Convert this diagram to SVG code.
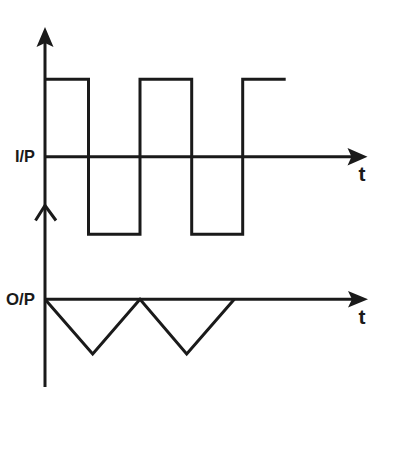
<svg xmlns="http://www.w3.org/2000/svg" width="410" height="462" viewBox="0 0 410 462">
<style>
.ln{fill:none;stroke:#1a1a1a;stroke-width:3;stroke-linejoin:miter;stroke-linecap:butt}
.ah{fill:#1a1a1a;stroke:none}
.lb{font-family:"Liberation Sans",Arial,sans-serif;font-size:16.5px;font-weight:bold;fill:#1a1a1a}
.tl{font-family:"Liberation Sans",Arial,sans-serif;font-size:20px;font-weight:bold;fill:#1a1a1a}
</style>
<rect width="410" height="462" fill="#ffffff"/>
<g id="axes">
<line class="ln" x1="45" y1="40" x2="45" y2="387"/>
<path class="ah" d="M45,27 L53.5,47 L45,43 L36.5,47 Z"/>
<line class="ln" x1="45" y1="156.7" x2="355" y2="156.7"/>
<path class="ah" d="M367.5,156.7 L347.5,148 L351.5,156.7 L347.5,165.5 Z"/>
<line class="ln" x1="45" y1="299.3" x2="355" y2="299.3"/>
<path class="ah" d="M368,299.3 L348,291 L352,299.3 L348,307.5 Z"/>
<polyline class="ln" points="35.5,220.5 45,205.5 56,220.5"/>
</g>
<g id="input-wave">
<polyline class="ln" points="45,79.3 88.5,79.3 88.5,234.3 140,234.3 140,79.3 191.7,79.3 191.7,234.3 242.7,234.3 242.7,79.3 285.7,79.3"/>
</g>
<g id="output-wave">
<polyline class="ln" points="45,299.3 92.7,354 140,299.3 186.7,354 234.3,299.3"/>
</g>
<g id="labels">
<text class="lb" x="15" y="162" textLength="20" lengthAdjust="spacingAndGlyphs">I/P</text>
<text class="lb" x="6" y="305" textLength="29" lengthAdjust="spacingAndGlyphs">O/P</text>
<text class="tl" x="358.5" y="181" textLength="7" lengthAdjust="spacingAndGlyphs">t</text>
<text class="tl" x="358.5" y="324" textLength="7" lengthAdjust="spacingAndGlyphs">t</text>
</g>
</svg>
